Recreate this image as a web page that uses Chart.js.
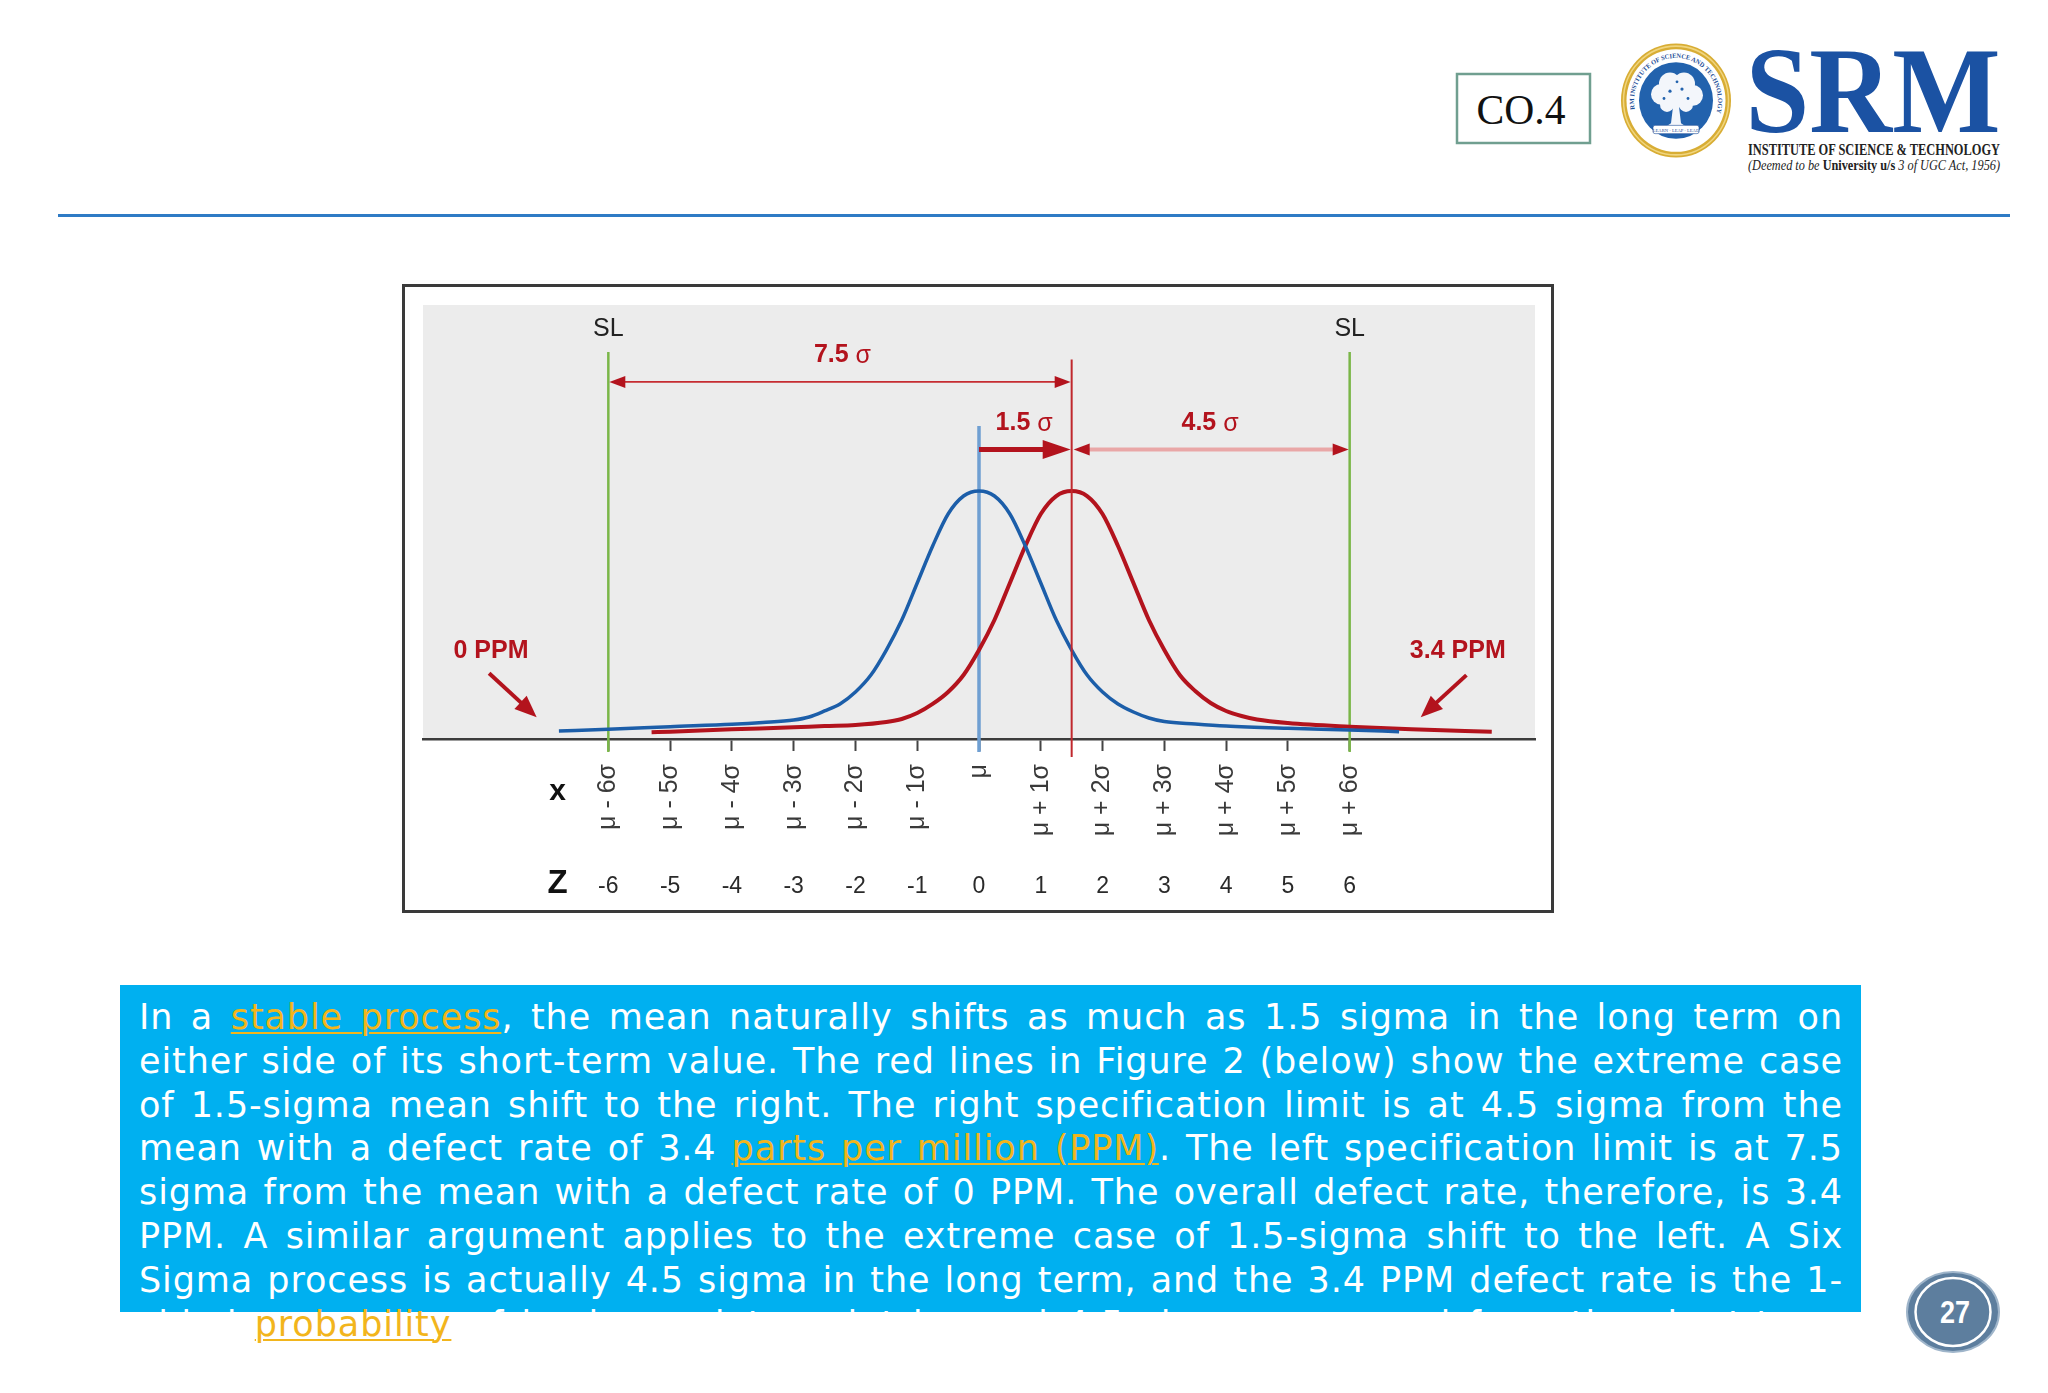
<!DOCTYPE html>
<html>
<head>
<meta charset="utf-8">
<script src="https://cdn.jsdelivr.net/npm/chart.js@4.4.1/dist/chart.umd.min.js"></script>
<style>
html,body{margin:0;padding:0;background:#fff;}
body{width:2048px;height:1393px;position:relative;overflow:hidden;}
#page{position:absolute;left:0;top:0;}
#frame{position:absolute;left:402px;top:284px;width:1152px;height:629px;border:3px solid #3a3a3a;box-sizing:border-box;background:#fff;}
#frame canvas{position:absolute;left:0;top:0;}
#textbox{position:absolute;left:120px;top:985px;width:1741px;height:327px;background:#00b0f0;}
#text{position:absolute;left:139px;top:996px;width:1704px;font-family:'DejaVu Sans',sans-serif;font-size:35px;letter-spacing:0.9px;line-height:43.8px;color:#fff;}
#text div{text-align:justify;text-align-last:justify;white-space:nowrap;}
.lk{color:#f2b51c;text-decoration:underline;text-decoration-thickness:2px;text-underline-offset:3px;}
</style>
</head>
<body>
<svg id="page" width="2048" height="1393" xmlns="http://www.w3.org/2000/svg">
  <rect x="1457" y="74" width="133" height="69" fill="#fff" stroke="#709f90" stroke-width="2.5"/>
  <text x="1476.5" y="123.5" font-family="Liberation Serif" font-size="42" textLength="89" lengthAdjust="spacingAndGlyphs" fill="#111">CO.4</text>
  <g transform="translate(1676,100.5) scale(1,1.036)">
    <circle r="55" fill="#d8ad34"/>
    <circle r="52.5" fill="none" stroke="#f0d57e" stroke-width="1.5"/>
    <circle r="49.5" fill="#fff"/>
    <path id="ring" d="M -41 10 A 42 42 0 1 1 41 10" fill="none"/>
    <text font-family="Liberation Serif" font-size="6.4" font-weight="bold" fill="#1f4f98"><textPath href="#ring" startOffset="50%" text-anchor="middle">SRM INSTITUTE OF SCIENCE AND TECHNOLOGY</textPath></text>
    <circle r="37" fill="#2262ad"/>
    <g fill="#f3f6fb">
      <circle cx="-15" cy="-6" r="10"/>
      <circle cx="-6" cy="-16" r="11"/>
      <circle cx="8" cy="-16" r="11"/>
      <circle cx="17" cy="-5" r="10"/>
      <circle cx="0" cy="-4" r="11"/>
      <circle cx="-9" cy="4" r="7"/>
      <circle cx="10" cy="4" r="7"/>
      <path d="M -3 6 L -5 22 L -10 25 L 10 25 L 5 22 L 3 6 Z"/>
    </g>
    <g fill="#2262ad">
      <circle cx="-6" cy="-9" r="1.6"/><circle cx="6" cy="-11" r="1.6"/><circle cx="-12" cy="-2" r="1.4"/><circle cx="12" cy="-2" r="1.4"/><circle cx="1" cy="-18" r="1.4"/>
    </g>
    <rect x="-23" y="24" width="46" height="8" rx="2" fill="#fff" stroke="#1f4f98" stroke-width="0.6"/>
    <text x="0" y="30" text-anchor="middle" font-family="Liberation Serif" font-size="4.6" fill="#1f4f98">LEARN · LEAP · LEAD</text>
  </g>
  <text x="1745.5" y="132" font-family="Liberation Serif" font-weight="bold" font-size="123" textLength="255" lengthAdjust="spacingAndGlyphs" fill="#1b52a3">SRM</text>
  <text x="1748" y="155" font-family="Liberation Serif" font-weight="bold" font-size="16" textLength="252" lengthAdjust="spacingAndGlyphs" fill="#222">INSTITUTE OF SCIENCE &amp; TECHNOLOGY</text>
  <text x="1748" y="170" font-family="Liberation Serif" font-size="14" textLength="252" lengthAdjust="spacingAndGlyphs" fill="#222"><tspan font-style="italic">(Deemed to be </tspan><tspan font-weight="bold">University u/s</tspan><tspan font-style="italic"> 3 of UGC Act, 1956)</tspan></text>
  <line x1="58" y1="215.5" x2="2010" y2="215.5" stroke="#2f7bc5" stroke-width="3"/>
  <ellipse cx="1953" cy="1312" rx="46" ry="40" fill="#5d7e9e" stroke="#9fb5ca" stroke-width="2"/>
  <ellipse cx="1953" cy="1312" rx="37.5" ry="34" fill="none" stroke="#fff" stroke-width="2.5"/>
  <text x="1955" y="1323" text-anchor="middle" font-family="Liberation Sans" font-weight="bold" font-size="31" textLength="30" lengthAdjust="spacingAndGlyphs" fill="#fff">27</text>
</svg>

<div id="frame"><canvas id="c" width="1146" height="623" style="width:1146px;height:623px;"></canvas></div>

<div id="textbox"></div>
<div id="text">
  <div>In a <span class="lk">stable process</span>, the mean naturally shifts as much as 1.5 sigma in the long term on</div>
  <div>either side of its short-term value. The red lines in Figure 2 (below) show the extreme case</div>
  <div>of 1.5-sigma mean shift to the right. The right specification limit is at 4.5 sigma from the</div>
  <div>mean with a defect rate of 3.4 <span class="lk">parts per million (PPM)</span>. The left specification limit is at 7.5</div>
  <div>sigma from the mean with a defect rate of 0 PPM. The overall defect rate, therefore, is 3.4</div>
  <div>PPM. A similar argument applies to the extreme case of 1.5-sigma shift to the left. A Six</div>
  <div>Sigma process is actually 4.5 sigma in the long term, and the 3.4 PPM defect rate is the 1-</div>
  <div>sided <span class="lk">probability</span> of having a data point beyond 4.5 sigma measured from the short-term</div>
</div>

<script>
// ---- data ----
const zTicks = [-6, -5, -4, -3, -2, -1, 0, 1, 2, 3, 4, 5, 6];
const xTickLabels = ['μ - 6σ', 'μ - 5σ', 'μ - 4σ', 'μ - 3σ', 'μ - 2σ', 'μ - 1σ', 'μ', 'μ + 1σ', 'μ + 2σ', 'μ + 3σ', 'μ + 4σ', 'μ + 5σ', 'μ + 6σ'];
const zTickLabels = ['-6', '-5', '-4', '-3', '-2', '-1', '0', '1', '2', '3', '4', '5', '6'];

const blueZ = [-6.8, -6, -5, -4, -3.5, -3, -2.75, -2.5, -2.25, -2, -1.75, -1.5, -1.25, -1, -0.75, -0.5, -0.25, 0, 0.25, 0.5, 0.75, 1, 1.25, 1.5, 1.75, 2, 2.25, 2.5, 2.75, 3, 3.5, 4, 5, 6, 6.8];
const blueY = [0.0129, 0.0156, 0.0198, 0.0237, 0.0266, 0.0306, 0.0355, 0.0452, 0.0565, 0.0758, 0.1032, 0.1435, 0.1919, 0.2516, 0.3113, 0.3629, 0.3919, 0.4000, 0.3919, 0.3629, 0.3113, 0.2516, 0.1919, 0.1435, 0.1032, 0.0758, 0.0565, 0.0435, 0.0339, 0.0282, 0.0242, 0.0210, 0.0173, 0.0145, 0.0118];

const redZ = [-5.3, -5, -4, -3, -2.5, -2, -1.5, -1.25, -1, -0.75, -0.5, -0.25, 0, 0.25, 0.5, 0.75, 1, 1.25, 1.5, 1.75, 2, 2.25, 2.5, 2.75, 3, 3.25, 3.5, 3.75, 4, 4.25, 4.5, 5, 6, 7, 8.3];
const redY = [0.0108, 0.0118, 0.0156, 0.0189, 0.0210, 0.0226, 0.0274, 0.0323, 0.0419, 0.0565, 0.0758, 0.1032, 0.1435, 0.1919, 0.2516, 0.3113, 0.3629, 0.3919, 0.4000, 0.3919, 0.3629, 0.3113, 0.2516, 0.1919, 0.1435, 0.1032, 0.0774, 0.0581, 0.0452, 0.0371, 0.0315, 0.0258, 0.0198, 0.0156, 0.0118];

const specLimits = [-6, 6];
const shortMean = 0;
const longMean = 1.5;

// ---- annotation plugin (positions in data units) ----
const RED = '#b3131d';
function head(ctx, tx, ty, fx, fy, len, half, color) {
  const a = Math.atan2(ty - fy, tx - fx);
  ctx.save();
  ctx.translate(tx, ty); ctx.rotate(a);
  ctx.beginPath(); ctx.moveTo(0, 0); ctx.lineTo(-len, -half); ctx.lineTo(-len, half); ctx.closePath();
  ctx.fillStyle = color; ctx.fill();
  ctx.restore();
}
function seg(ctx, x1, y1, x2, y2, color, w) {
  ctx.save(); ctx.beginPath(); ctx.moveTo(x1, y1); ctx.lineTo(x2, y2);
  ctx.strokeStyle = color; ctx.lineWidth = w; ctx.stroke(); ctx.restore();
}
function sigmaLabel(ctx, num, cx, cy) {
  ctx.save();
  ctx.textBaseline = 'middle';
  ctx.font = 'bold 25px "Liberation Sans", Arial';
  const w1 = ctx.measureText(num + ' ').width;
  ctx.font = '25px "Liberation Sans", Arial';
  const w2 = ctx.measureText('σ').width;
  let x = cx - (w1 + w2) / 2;
  ctx.fillStyle = RED;
  ctx.font = 'bold 25px "Liberation Sans", Arial';
  ctx.textAlign = 'left';
  ctx.fillText(num + ' ', x, cy);
  ctx.font = '25px "Liberation Sans", Arial';
  ctx.fillText('σ', x + w1, cy + 1);
  ctx.restore();
}

const figurePlugin = {
  id: 'figure',
  beforeDraw(chart) {
    const {ctx, chartArea: a} = chart;
    ctx.save(); ctx.fillStyle = '#ececec';
    ctx.fillRect(a.left, a.top, a.right - a.left, a.bottom - a.top);
    ctx.restore();
  },
  beforeDatasetsDraw(chart) {
    const {ctx, scales: {x, y}, chartArea: a} = chart;
    const below = a.bottom + 13;
    specLimits.forEach(v => seg(ctx, x.getPixelForValue(v), y.getPixelForValue(0.624), x.getPixelForValue(v), below, '#7ab648', 2.5));
    seg(ctx, x.getPixelForValue(shortMean), y.getPixelForValue(0.505), x.getPixelForValue(shortMean), below, '#6f9fd2', 3.5);
  },
  afterDatasetsDraw(chart) {
    const {ctx, scales: {x, y, x2}, chartArea: a} = chart;
    const px = v => x.getPixelForValue(v), py = v => y.getPixelForValue(v);
    // shifted-mean line
    seg(ctx, px(longMean), py(0.612), px(longMean), a.bottom + 18, '#c0282d', 2);
    // 7.5 sigma
    const y75 = py(0.576);
    seg(ctx, px(-6) + 8, y75, px(longMean) - 8, y75, '#c62c31', 1.8);
    head(ctx, px(-6) + 1, y75, px(0), y75, 16, 6, RED);
    head(ctx, px(longMean) - 1, y75, px(0), y75, 16, 6, RED);
    // 4.5 sigma
    const y45 = py(0.467);
    seg(ctx, px(longMean) + 10, y45, px(6) - 10, y45, '#e9a7a7', 4);
    head(ctx, px(longMean) + 2, y45, px(4), y45, 16, 6, RED);
    head(ctx, px(6) - 1, y45, px(4), y45, 16, 6, RED);
    // 1.5 sigma
    seg(ctx, px(shortMean), y45, px(longMean) - 20, y45, RED, 5);
    head(ctx, px(longMean) - 1, y45, px(0), y45, 28, 9.5, RED);
    // labels
    sigmaLabel(ctx, '7.5', px(-2.21), py(0.619));
    sigmaLabel(ctx, '1.5', px(0.73), py(0.510));
    sigmaLabel(ctx, '4.5', px(3.74), py(0.510));
    ctx.save();
    ctx.fillStyle = '#222'; ctx.textAlign = 'center'; ctx.textBaseline = 'middle';
    ctx.font = '25px "Liberation Sans", Arial';
    specLimits.forEach(v => ctx.fillText('SL', px(v), py(0.661)));
    ctx.fillStyle = RED; ctx.font = 'bold 25px "Liberation Sans", Arial';
    ctx.fillText('0 PPM', px(-7.9), py(0.141));
    ctx.fillText('3.4 PPM', px(7.75), py(0.141));
    ctx.restore();
    // PPM arrows
    seg(ctx, px(-7.93), py(0.106), px(-7.33), py(0.051), RED, 4);
    head(ctx, px(-7.16), py(0.035), px(-7.93), py(0.106), 22, 9, RED);
    seg(ctx, px(7.89), py(0.103), px(7.32), py(0.051), RED, 4);
    head(ctx, px(7.15), py(0.035), px(7.89), py(0.103), 22, 9, RED);
    // row titles
    ctx.save();
    ctx.fillStyle = '#111'; ctx.textAlign = 'center'; ctx.textBaseline = 'middle';
    ctx.font = 'bold 30px "Liberation Sans", Arial';
    ctx.fillText('x', px(-6.82), x.top + 53);
    ctx.font = 'bold 33px "Liberation Sans", Arial';
    ctx.fillText('Z', px(-6.82), x2.top + 33);
    ctx.restore();
  }
};

const setTicks = s => { s.ticks = zTicks.map(v => ({value: v})); };

new Chart(document.getElementById('c'), {
  type: 'line',
  data: {
    datasets: [
      {label: 'Short-term', data: blueZ.map((z, i) => ({x: z, y: blueY[i]})), borderColor: '#1c5ea9', borderWidth: 3.5, pointRadius: 0, cubicInterpolationMode: 'monotone', fill: false},
      {label: 'Long-term (1.5σ shift)', data: redZ.map((z, i) => ({x: z, y: redY[i]})), borderColor: '#b3131d', borderWidth: 4, pointRadius: 0, cubicInterpolationMode: 'monotone', fill: false}
    ]
  },
  options: {
    responsive: false,
    animation: false,
    devicePixelRatio: 1,
    layout: {padding: {left: 18, right: 16, top: 18, bottom: 0}},
    plugins: {legend: {display: false}, tooltip: {enabled: false}},
    scales: {
      x: {
        type: 'linear', min: -9, max: 9, position: 'bottom',
        afterBuildTicks: setTicks,
        afterFit: s => { s.height = 112; },
        grid: {drawOnChartArea: false, drawTicks: true, tickLength: 12, tickColor: '#444', tickWidth: 2},
        border: {display: true, color: '#3c3c3c', width: 2.5},
        ticks: {autoSkip: false, minRotation: 90, maxRotation: 90, padding: 13, color: '#3a3a3a',
          font: {family: '"Liberation Sans", Arial', size: 25},
          callback: (v, i) => xTickLabels[i]}
      },
      x2: {
        type: 'linear', min: -9, max: 9, position: 'bottom',
        afterBuildTicks: setTicks,
        afterFit: s => { s.height = 59; },
        grid: {display: false}, border: {display: false},
        ticks: {autoSkip: false, maxRotation: 0, padding: 14, color: '#2a2a2a',
          font: {family: '"Liberation Sans", Arial', size: 23},
          callback: (v, i) => zTickLabels[i]}
      },
      y: {display: false, min: 0, max: 0.7}
    }
  },
  plugins: [figurePlugin]
});
</script>
</body>
</html>
